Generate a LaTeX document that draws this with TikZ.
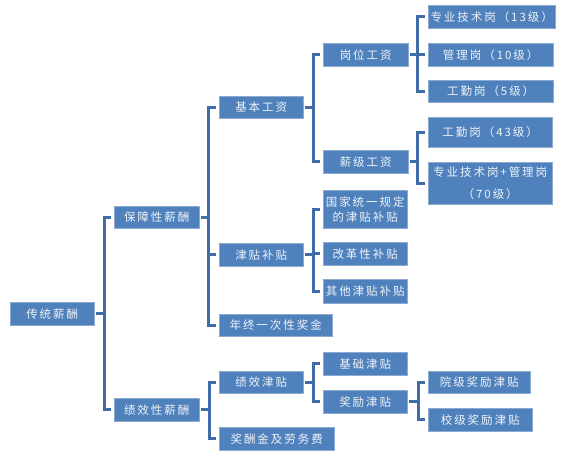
\documentclass[tikz,border=0pt]{standalone}
\usepackage{fontspec}
\newfontfamily\cjk[LetterSpace=17]{Noto Sans CJK SC}
\definecolor{boxblue}{RGB}{79,129,189}
\definecolor{lineblue}{RGB}{64,108,168}
\definecolor{txt}{RGB}{240,243,248}
\definecolor{edge}{RGB}{140,170,210}
\tikzset{
  bx/.style={draw=edge, line width=0.4pt, fill=boxblue, text=txt, inner sep=0pt,
    anchor=north west, font=\cjk\fontsize{11.5}{15}\selectfont, align=center},
  conn/.style={draw=lineblue, line width=3pt, line join=miter, shorten <=2pt, shorten >=3pt}
}
\newcommand{\bxn}[6]{\node[bx, minimum width=#4-#2, minimum height=#5-#3] (#1) at (#2,#3) {#6};}
\begin{document}
\begin{tikzpicture}[x=1pt,y=-1pt]
\useasboundingbox (0,0) rectangle (573,466);
\bxn{root}{10}{302}{94}{325}{传统薪酬}
\bxn{bz}{114}{206}{199}{228}{保障性薪酬}
\bxn{jx}{114}{398}{199}{421}{绩效性薪酬}
\bxn{jb}{219}{96}{303}{118}{基本工资}
\bxn{jt}{219}{243}{303}{266}{津贴补贴}
\bxn{nz}{219}{314}{332}{336}{年终一次性奖金}
\bxn{jxjt}{219}{371}{303}{393}{绩效津贴}
\bxn{jc}{219}{427}{334}{450}{奖酬金及劳务费}
\bxn{gw}{323}{43}{408}{66}{岗位工资}
\bxn{xj}{323}{150}{408}{173}{薪级工资}
\bxn{gj}{323}{190}{407}{228}{国家统一规定\\的津贴补贴}
\bxn{gg}{323}{242}{407}{265}{改革性补贴}
\bxn{qt}{323}{279}{407}{303}{其他津贴补贴}
\bxn{jcjt}{323}{352}{407}{375}{基础津贴}
\bxn{jl}{323}{390}{407}{413}{奖励津贴}
\bxn{zy}{428}{5}{555}{28}{专业技术岗（13级）}
\bxn{gl}{428}{43}{553}{66}{管理岗（10级）}
\bxn{gq}{428}{80}{553}{102}{工勤岗（5级）}
\bxn{gqb}{428}{117}{552}{147}{工勤岗（43级）}
\bxn{zg}{428}{162}{552}{204}{专业技术岗+管理岗\\[7pt]（70级）}
\bxn{yj}{428}{371}{530}{393}{院级奖励津贴}
\bxn{xjj}{428}{408}{532}{431}{校级奖励津贴}
\foreach \p/\c/\d in {root/bz/10, root/jx/10,
  bz/jb/9, bz/jt/9, bz/nz/9, jx/jxjt/10, jx/jc/10,
  jb/gw/10, jb/xj/10, jt/gj/10, jt/gg/10, jt/qt/10, jxjt/jcjt/10, jxjt/jl/10,
  gw/zy/9, gw/gl/9, gw/gq/9, xj/gqb/9, xj/zg/9, jl/yj/11, jl/xjj/11}
  \draw[conn] (\p.east) -- ++(\d,0) |- (\c.west);
\end{tikzpicture}
\end{document}
